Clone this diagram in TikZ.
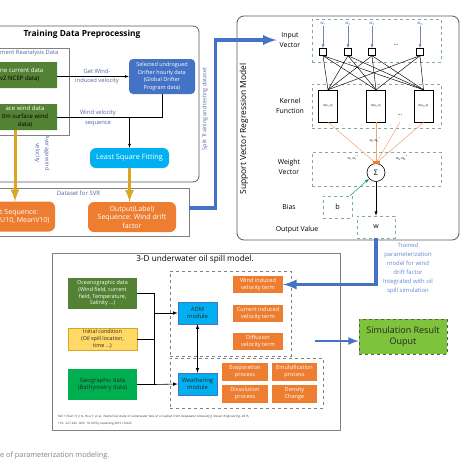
\documentclass[tikz,border=0pt]{standalone}
\usepackage{fontspec}
\setmainfont{Open Sans}
\usetikzlibrary{shapes.misc}

\definecolor{darkgreen}{RGB}{84,130,53}
\definecolor{blueD}{RGB}{68,114,196}
\definecolor{cyanB}{RGB}{0,176,240}
\definecolor{orangeB}{RGB}{237,125,49}
\definecolor{goldA}{RGB}{218,165,32}
\definecolor{lblblue}{RGB}{80,100,160}
\definecolor{dashteal}{RGB}{130,170,160}
\definecolor{framegray}{RGB}{89,89,89}
\definecolor{simgreen}{RGB}{125,195,60}
\definecolor{inityellow}{RGB}{255,217,102}
\definecolor{geogreen}{RGB}{0,176,80}

\begin{document}
\begin{tikzpicture}[x=1pt,y=-1pt]
\tikzstyle{frame}=[draw=framegray, line width=0.8pt, inner sep=0pt]
\tikzstyle{lbl}=[text=lblblue, align=center, inner sep=0pt, font=\fontsize{5.8}{9}\selectfont]
\tikzstyle{greenbox}=[chamfered rectangle, chamfered rectangle corners=north east, chamfered rectangle xsep=4pt, chamfered rectangle ysep=4pt, fill=darkgreen, inner sep=0pt]
\tikzstyle{fillbox}=[inner sep=0pt, align=center, text=white]
\tikzstyle{orangebox}=[fillbox, fill=orangeB, rounded corners=6pt, font=\fontsize{7}{8.5}\selectfont]
\tikzstyle{goldarrow}=[draw=goldA, line width=3pt, ->, >=latex]
\tikzstyle{bigarrow}=[draw=blueD, line width=3.5pt, ->, >=latex]
\tikzstyle{dashbox}=[draw=dashteal, dashed, line width=0.6pt, inner sep=0pt]
\tikzstyle{svrlbl}=[align=center, inner sep=0pt, font=\fontsize{6.9}{10}\selectfont]
\tikzstyle{sq}=[draw, minimum size=7pt, inner sep=0pt, line width=0.4pt, fill=white]
\tikzstyle{kern}=[draw, minimum width=19pt, minimum height=32pt, inner sep=0pt, line width=0.5pt, font=\fontsize{3}{3.5}\selectfont]
\tikzstyle{tinylbl}=[inner sep=0pt, font=\fontsize{3.4}{4}\selectfont]
\tikzstyle{term}=[fillbox, fill=orangeB, font=\fontsize{5.6}{7}\selectfont]
\tikzstyle{module}=[fillbox, fill=cyanB, draw=blueD, line width=0.6pt, text=black!85, font=\fontsize{5.8}{7.5}\selectfont]
\tikzstyle{databox}=[fillbox, font=\fontsize{5.4}{6.7}\selectfont, minimum width=69pt]
\tikzstyle{graydash}=[draw=gray, dashed, line width=0.7pt, inner sep=0pt]

\useasboundingbox (0,0) rectangle (474,474);
\clip (0,0) rectangle (474,474);

% training data preprocessing
\node[frame, rounded corners=6pt, minimum width=209pt, minimum height=156pt] (train) at (94.5,104) {};
\node[font=\bfseries\fontsize{8.4}{10}\selectfont] (traintitle) at (82,34) {Training Data Preprocessing};
\node[draw=gray, line width=0.6pt, minimum width=79pt, minimum height=87pt] (reana) at (29.5,91.5) {};
\node[lbl, anchor=west] (reanatitle) at (0,53) {ment Reanalysis Data};
\node[greenbox, minimum width=82pt, minimum height=26pt] (cur) at (16,75) {};
\node[fillbox, anchor=west, align=left, font=\fontsize{6}{8}\selectfont] (curtext) at (0,75) {ne current data\\\textcolor{black}{v2 NCEP data)}};
\node[greenbox, minimum width=82pt, minimum height=26pt] (wind) at (16,117) {};
\node[fillbox, font=\fontsize{6}{7.7}\selectfont] (windtext) at (25,116.5) {ace wind data\\\textcolor{black}{0m surface wind}\\\textcolor{black}{data)}};
\node[fillbox, fill=blueD, rounded corners=4pt, minimum width=66pt, minimum height=35pt, font=\fontsize{5.5}{7.5}\selectfont] (blue) at (162,76.5) {Selected undrogued\\Drifter hourly data\\(Global Drifter\\Program data)};
\node[fillbox, fill=cyanB, rounded corners=6pt, minimum width=79pt, minimum height=20pt, font=\fontsize{7.3}{8}\selectfont] (lsf) at (129.5,158) {Least Square Fitting};
\node[lbl] (getlbl) at (97,76.5) {Get Wind-\\induced velocity};
\node[lbl, font=\fontsize{5.8}{10}\selectfont] (wvlbl) at (98,118) {Wind velocity\\sequence};
\node[lbl, rotate=-90, font=\fontsize{5.6}{9.5}\selectfont] (avglbl) at (42,153) {Average wind\\velocity};

\draw[->,>=latex] (cur.east |- blue.west) -- (blue.west);
\draw (wind.east) -- (wind.east -| blue.south) -- (blue.south);
\draw[->,>=latex] (wind.east -| lsf.north) -- (lsf.north);

% dataset for SVR
\node[frame, draw=gray, minimum width=199pt, minimum height=48pt] (dataset) at (89.5,212) {};
\node[lbl, font=\fontsize{6}{7}\selectfont] (datalbl) at (78.5,193) {Dataset for SVR};
\node[orangebox, minimum width=80pt, minimum height=30pt] (inp) at (15,216.5) {};
\node[fillbox, anchor=west, align=left, font=\fontsize{7}{8.5}\selectfont] (inptext) at (0,216.5) {t Sequence:\\U10, MeanV10)};
\node[orangebox, minimum width=88pt, minimum height=30pt] (out) at (132,217) {Output(Label)\\Sequence: Wind drift\\factor};

\draw[goldarrow] (inp.north |- wind.south) -- (inp.north);
\draw[goldarrow] (lsf.south) -- (lsf.south |- out.north);

% support vector regression
\node[frame, rounded corners=7pt, minimum width=222pt, minimum height=224pt] (svr) at (348,128) {};
\node[rotate=90, font=\fontsize{8.4}{10}\selectfont] (svrtitle) at (244,129) {Support Vector Regression Model};
\node[svrlbl, inner sep=3pt] (invec) at (290,40) {Input\\Vector};
\node[dashbox, minimum width=129pt, minimum height=43pt] (inbox) at (376.5,40.5) {};
\node[svrlbl] (kernlbl) at (290,106) {Kernel\\Function};
\node[dashbox, minimum width=129pt, minimum height=44pt] (kernbox) at (376.5,106) {};
\node[svrlbl] (weightlbl) at (289,167) {Weight\\Vector};
\node[dashbox, minimum width=129pt, minimum height=34pt] (weightbox) at (376.5,169) {};
\node[svrlbl] (biaslbl) at (289,207) {Bias};
\node[dashbox, minimum width=29pt, minimum height=22pt, font=\fontsize{7.2}{8}\selectfont] (bbox) at (337.5,207) {b};
\node[svrlbl] (outlbl) at (297,230) {Output Value};
\node[dashbox, minimum width=38pt, minimum height=22pt, font=\fontsize{7}{8}\selectfont] (wbox) at (376,227) {w};

\foreach \i/\x/\t in {1/323/1,2/348/2,3/372/3,4/420/N} {
  \node[sq] (s\i) at (\x,52) {};
  \node[tinylbl, text=lblblue, font=\fontsize{4.2}{5}\selectfont] (wl\i) at (\x,24) {w\textsubscript{\t}};
  \draw[->,>=latex, draw=lblblue!80, line width=0.4pt] (wl\i) -- (s\i);
}
\node[tinylbl, font=\fontsize{6}{6}\selectfont] (sdots) at (396,45) {...};
\foreach \i/\x/\t in {1/328/1,2/376/2,3/423.5/N}
  \node[kern] (k\i) at (\x,106) {K(x\textsubscript{\t},x)};
\node[tinylbl, font=\fontsize{6}{6}\selectfont] (kdots) at (400,115) {...};
\coordinate (kd) at (400,122);
\foreach \i in {1,...,4}
  \foreach \k in {1,2,3}
    \draw[line width=0.45pt] (s\i.south) -- (k\k.north);

\node[draw, circle, minimum size=18pt, inner sep=0pt, fill=white, line width=0.6pt, font=\fontsize{7.5}{8}\selectfont] (sig) at (376,172.5) {Σ};
\foreach \k in {k1.south,k2.south,kd,k3.south}
  \draw[draw=orangeB!70, line width=0.5pt] (\k) -- (sig.north);
\fill[orangeB] (sig.north) ++(-3.5,1) rectangle ++(7,-3);
\node[tinylbl] (a1) at (353,158) {α\textsubscript{1}-α\textsubscript{1}\textsuperscript{*}};
\node[tinylbl] (a2) at (375,140) {α\textsubscript{2}-α\textsubscript{2}\textsuperscript{*}};
\node[tinylbl] (aN) at (402,158) {α\textsubscript{N}-α\textsubscript{N}\textsuperscript{*}};
\draw[->,>=latex, draw=teal!70!green, line width=0.5pt] (bbox) -- (sig);
\draw[->,>=latex, line width=0.5pt] (sig.south) -- (wbox.north);

\draw[bigarrow] ([yshift=4pt]dataset.east) -- ++(26,0) |- (invec.west);
\node[lbl, rotate=90, font=\fontsize{5.4}{6}\selectfont] (splitlbl) at (205,109) {Split Training and testing dataset};

% 3-D underwater oil spill model
\node[frame, draw=gray, minimum width=288pt, minimum height=177pt] (oil) at (196,341.5) {};
\node[font=\fontsize{8.2}{9}\selectfont] (oiltitle) at (195,259) {3-D underwater oil spill model.};
\node[databox, fill=darkgreen, minimum height=31pt] (ocean) at (102.5,293.5) {Oceanographic data\\(Wind field, current\\field, Temperature,\\Salinity ...)};
\node[databox, fill=inityellow, draw=goldA, line width=0.5pt, text=black!85, minimum height=22pt] (init) at (102.5,339) {Initial condition\\(Oil spill location,\\time ...)};
\node[databox, fill=geogreen, text=black!85, minimum height=31pt, font=\fontsize{5.9}{7.5}\selectfont] (geo) at (102.5,384.5) {Geographic data\\(Bathymetry data)};
\node[graydash, minimum width=121pt, minimum height=85pt] (dash1) at (230.5,313.5) {};
\node[graydash, minimum width=153pt, minimum height=50pt] (dash2) at (246.5,383) {};
\node[module, minimum width=39pt, minimum height=22pt] (adm) at (197.5,313) {ADM\\module};
\node[module, minimum width=39pt, minimum height=22pt] (weather) at (197.5,384) {Weathering\\module};
\node[term, minimum width=50pt, minimum height=17pt] (wterm) at (258,284.5) {Wind induced\\velocity term};
\node[term, minimum width=50pt, minimum height=17pt] (cterm) at (258,313.5) {Current induced\\velocity term};
\node[term, minimum width=50pt, minimum height=17pt] (dterm) at (258,341.5) {Diffusion\\velocity term};
\node[term, minimum width=46pt, minimum height=18pt] (evap) at (245,372) {Evaporation\\process};
\node[term, minimum width=45pt, minimum height=18pt] (emul) at (294.5,372) {Emulsification\\process};
\node[term, minimum width=46pt, minimum height=18pt] (diss) at (245,394) {Dissolution\\process};
\node[term, minimum width=45pt, minimum height=18pt] (dens) at (294.5,394) {Density\\Change};
\node[anchor=north west, text width=270pt, align=left, inner sep=0pt, text=black!80, font=\fontsize{3}{7}\selectfont] (reftext) at (58,415) {Ref.1 Chen H, Ji N, Hou Y, et al. Numerical study of underwater fate of oil spilled from deepwater blowout[J]. Ocean Engineering, 2015,\\110: 227-243. DOI: 10.1016/j.oceaneng.2015.10.026};

\coordinate (bus) at (154,0);
\draw[line width=0.6pt] (ocean.east) -- (ocean.east -| bus) -- (geo.east -| bus) -- (geo.east);
\draw[line width=0.6pt] (init.east) -- (init.east -| bus);
\draw[->,>=latex, line width=0.6pt] (adm.west -| bus) -- (adm.west);
\draw[->,>=latex, line width=0.6pt] (geo.east -| bus) -- (weather.west);
\draw[<->,>=latex, line width=0.6pt] (adm) -- (weather);

\draw[bigarrow] (wbox.south) |- (wterm.east);
\node[lbl, text=blueD!85, font=\fontsize{5.9}{9}\selectfont] (trainedlbl) at (408,268.5) {Trained\\parameterization\\model for wind\\drift factor\\Integrated with oil\\spill simulation};

\node[fillbox, fill=simgreen, draw=framegray, dashed, line width=0.7pt, text=black!85, minimum width=88pt, minimum height=35pt, font=\fontsize{9}{11}\selectfont] (sim) at (403,336.5) {Simulation Result\\Ouput};
\coordinate (simfrom) at (315,341);
\draw[bigarrow, line width=2.5pt] (simfrom) -- (simfrom -| sim.west);

\node[anchor=west, inner sep=0pt, text=gray, font=\fontsize{7.3}{9}\selectfont] (caption) at (0,456) {e of parameterization modeling.};
\end{tikzpicture}
\end{document}
